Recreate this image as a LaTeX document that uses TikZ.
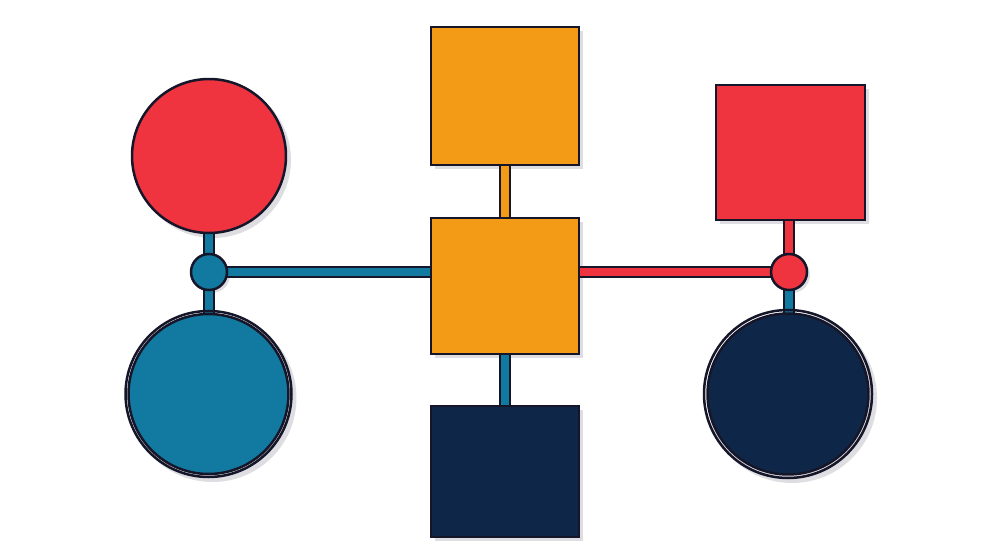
\documentclass[tikz,border=0pt]{standalone}
\definecolor{cred}{RGB}{239,52,64}
\definecolor{corange}{RGB}{243,155,22}
\definecolor{cblue}{RGB}{18,122,160}
\definecolor{cnavy}{RGB}{14,38,72}
\definecolor{cline}{RGB}{22,22,42}
\definecolor{cshadow}{RGB}{222,222,226}
\pgfdeclarelayer{shadowlayer}
\pgfdeclarelayer{barlayer}
\pgfsetlayers{shadowlayer,barlayer,main}
\tikzset{
  shp/.style={draw=cline, line width=0.05cm, inner sep=0pt, outer sep=0pt},
  sq/.style={shp, rectangle},
  rnd/.style={shp, circle},
  bar/.style={draw=cline, line width=0.035cm, double=#1, double distance=0.17cm},
  ring/.style={draw=cline, line width=0.05cm}
}
\begin{document}
\begin{tikzpicture}[x=0.02cm, y=-0.02cm]
\useasboundingbox (0,0) rectangle (1000,560);
% squares
\node[sq, fill=corange, minimum width=2.96cm, minimum height=2.76cm] (otop) at (505,96) {};
\node[sq, fill=corange, minimum width=2.96cm, minimum height=2.72cm] (omid) at (505,286) {};
\node[sq, fill=cnavy, minimum width=2.96cm, minimum height=2.62cm] (nbot) at (505,471.5) {};
\node[sq, fill=cred, minimum width=2.98cm, minimum height=2.70cm] (rsq) at (790.5,152.5) {};
% circles
\node[rnd, fill=cred, minimum size=3.08cm] (rc) at (209,156) {};
\node[rnd, fill=cblue, minimum size=0.72cm] (bj) at (209,272) {};
\node[rnd, fill=cblue, minimum size=3.20cm] (bc) at (208.5,394) {};
\draw[ring] (bc.center) circle (83);
\node[rnd, fill=cred, minimum size=0.72cm] (rj) at (789,272) {};
\node[rnd, fill=cnavy, minimum size=3.22cm] (nc) at (788,394) {};
\draw[ring] (nc.center) circle (84);
% shadows
\begin{pgfonlayer}{shadowlayer}
\foreach \n in {otop,omid,nbot,rsq}{
  \fill[cshadow] ([shift={(4,4)}]\n.south west) rectangle ([shift={(4,4)}]\n.north east);
}
\fill[cshadow] ([shift={(4,4)}]rc.center) circle (78);
\fill[cshadow] ([shift={(3,3)}]bj.center) circle (18);
\fill[cshadow] ([shift={(3,3)}]rj.center) circle (18);
\fill[cshadow] ([shift={(4,4)}]bc.center) circle (84);
\fill[cshadow] ([shift={(4,4)}]nc.center) circle (85);
\end{pgfonlayer}
% connectors
\begin{pgfonlayer}{barlayer}
\draw[bar=corange] (otop.south) -- (otop.south |- omid.north);
\draw[bar=cblue] (omid.south) -- (omid.south |- nbot.north);
\draw[bar=cblue] (bj.east) -- (bj.east -| omid.west);
\draw[bar=cred] (rj.west) -- (rj.west -| omid.east);
\draw[bar=cblue] (bj.north) -- (bj.north |- rc.south);
\draw[bar=cblue] (bj.south) -- (bj.south |- bc.north);
\draw[bar=cred] (rj.north) -- (rj.north |- rsq.south);
\draw[bar=cblue] (rj.south) -- (rj.south |- nc.north);
\end{pgfonlayer}
\end{tikzpicture}
\end{document}
